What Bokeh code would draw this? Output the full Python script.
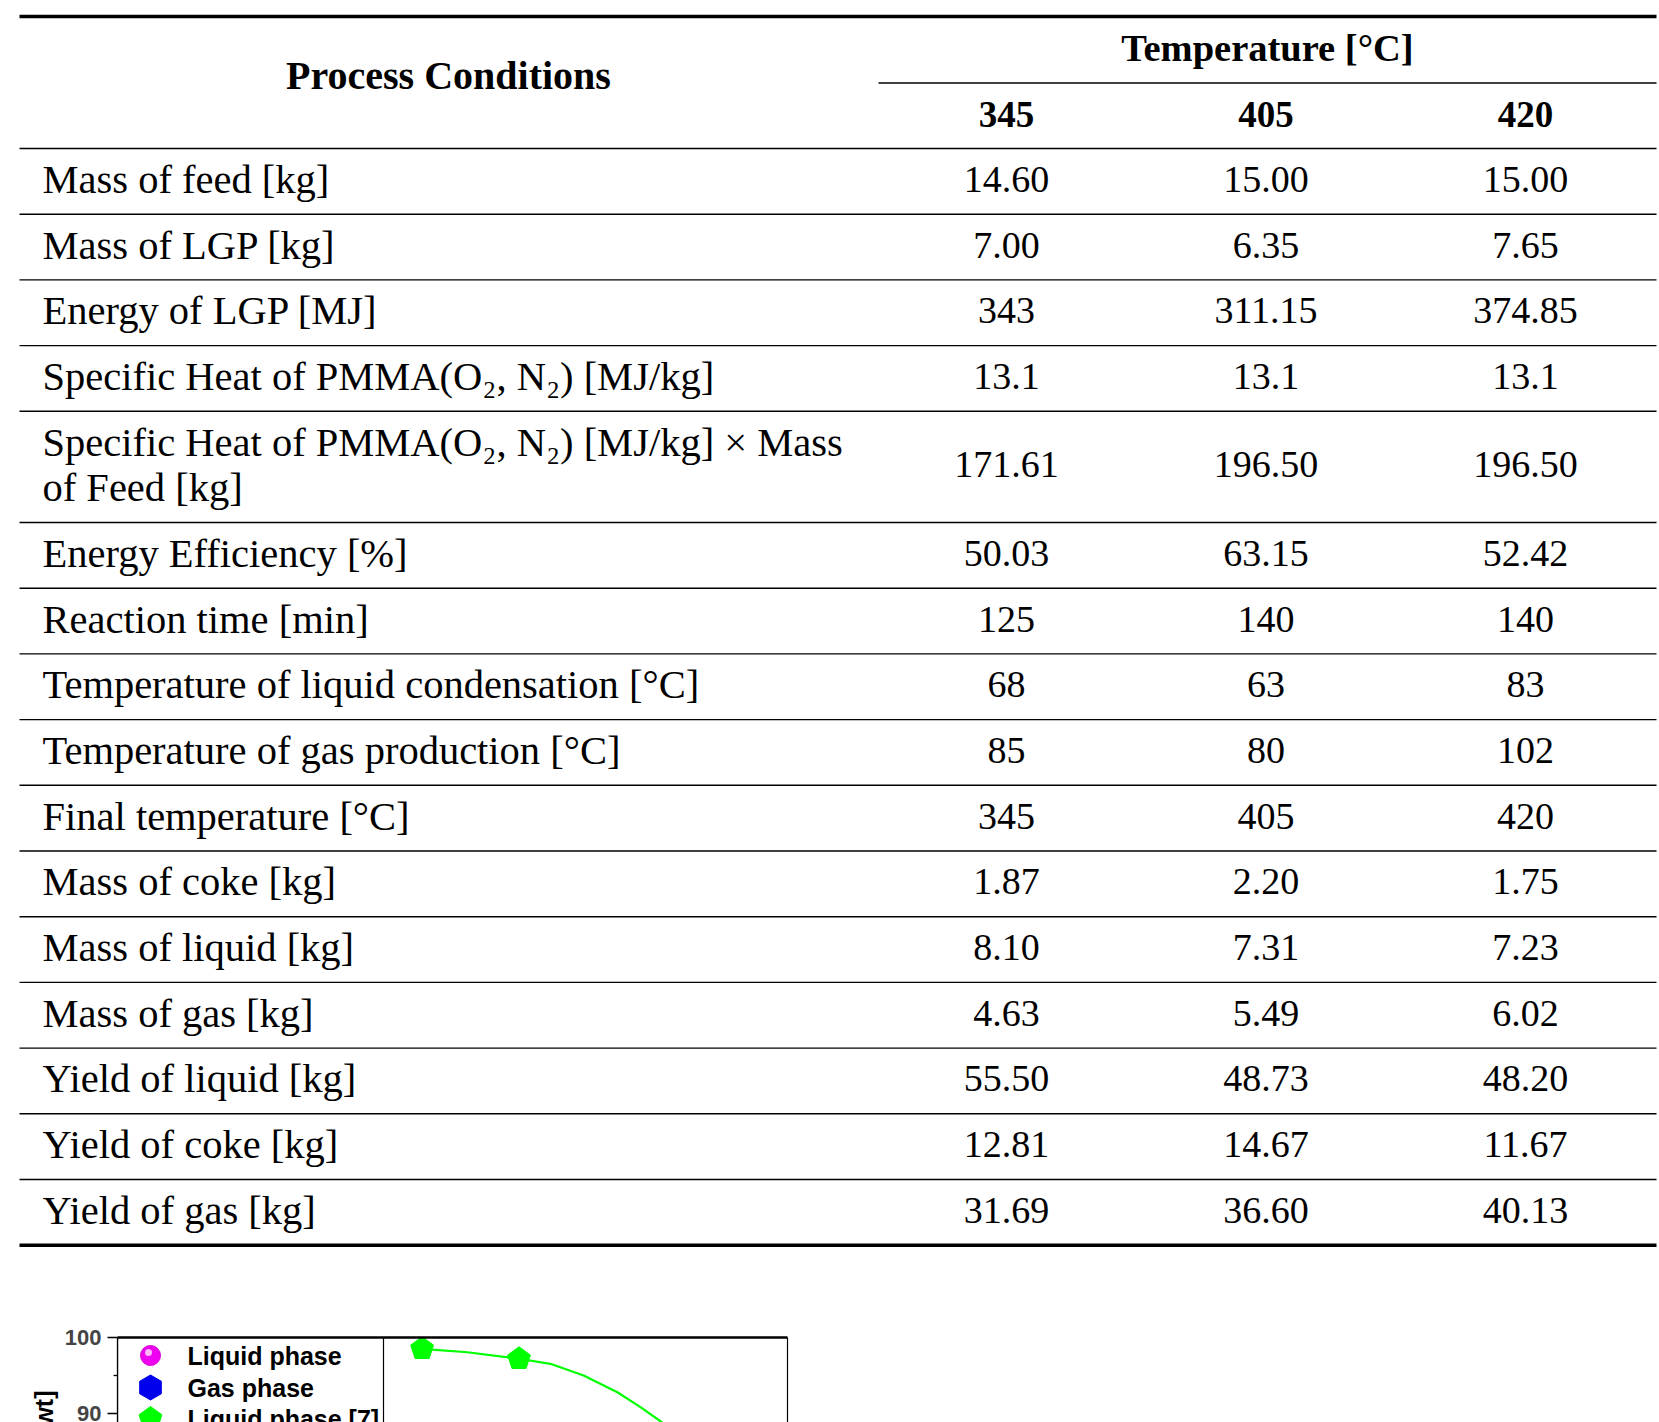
import math
from bokeh.plotting import figure
from bokeh.layouts import column, row
from bokeh.models import Range1d, LinearAxis, FixedTicker
from bokeh.core.properties import value
from bokeh.embed import file_html
from bokeh.resources import INLINE

# ---------------- table data ----------------
header_left = "Process Conditions"
header_group = "Temperature [°C]"
temperatures = ["345", "405", "420"]
conditions = [
    "Mass of feed [kg]",
    "Mass of LGP [kg]",
    "Energy of LGP [MJ]",
    "Specific Heat of PMMA(O₂, N₂) [MJ/kg]",
    "Specific Heat of PMMA(O₂, N₂) [MJ/kg] × Mass\nof Feed [kg]",
    "Energy Efficiency [%]",
    "Reaction time [min]",
    "Temperature of liquid condensation [°C]",
    "Temperature of gas production [°C]",
    "Final temperature [°C]",
    "Mass of coke [kg]",
    "Mass of liquid [kg]",
    "Mass of gas [kg]",
    "Yield of liquid [kg]",
    "Yield of coke [kg]",
    "Yield of gas [kg]",
]
t345 = ["14.60", "7.00", "343", "13.1", "171.61", "50.03", "125", "68", "85",
        "345", "1.87", "8.10", "4.63", "55.50", "12.81", "31.69"]
t405 = ["15.00", "6.35", "311.15", "13.1", "196.50", "63.15", "140", "63", "80",
        "405", "2.20", "7.31", "5.49", "48.73", "14.67", "36.60"]
t420 = ["15.00", "7.65", "374.85", "13.1", "196.50", "52.42", "140", "83", "102",
        "420", "1.75", "7.23", "6.02", "48.20", "11.67", "40.13"]

# ---------------- chart data (visible top part) ----------------
legend_labels = ["Liquid phase", "Gas phase", "Liquid phase [7]"]
liq7_x = [360.2, 380.3]
liq7_y = [98.52, 97.21]
liq7_fit_x = [360.2, 369.6, 380.3, 386.8, 393.7, 400.7, 405.5, 410.0, 412.5]
liq7_fit_y = [98.52, 98.07, 97.21, 96.55, 95.02, 92.83, 90.87, 88.86, 87.6]
y_label = "Yield [wt]"

# ---------------- table figure ----------------
SERIF = "Liberation Serif"
FS_LABEL, FS_NUM = "40.5px", "38px"
TW, TH = 1659, 1290
t = figure(width=TW, height=TH, x_range=Range1d(0, TW), y_range=Range1d(TH, 0),
           output_backend="svg", toolbar_location=None, x_axis_type=None,
           y_axis_type=None, min_border=0, outline_line_color=None, frame_align=False)
t.grid.visible = False

TOP_Y, CMID_Y, HEAD_RULE_Y = 16, 82.5, 148
HEAD1_Y, HEAD2_Y = 47, 114
ROW_H, LINE_H = 65.7, 45.5
TXT_DY = -2
LABEL_X = 42
COL_X = [1006, 1265.5, 1525]
RULE_X0, RULE_X1, CMID_X0 = 19, 1656, 878

bounds = [HEAD_RULE_Y]
for cond in conditions:
    n = cond.count("\n") + 1
    bounds.append(bounds[-1] + ROW_H + LINE_H * (n - 1))
centers = [(a + b) / 2 + TXT_DY for a, b in zip(bounds[:-1], bounds[1:])]

thin_y = bounds[:-1]
t.segment(x0=[RULE_X0] * len(thin_y), x1=[RULE_X1] * len(thin_y), y0=thin_y, y1=thin_y,
          line_color="black", line_width=1.4)
t.segment(x0=[CMID_X0], x1=[RULE_X1], y0=[CMID_Y], y1=[CMID_Y], line_color="black",
          line_width=1.4)
t.segment(x0=[RULE_X0, RULE_X0], x1=[RULE_X1, RULE_X1], y0=[TOP_Y, bounds[-1]],
          y1=[TOP_Y, bounds[-1]], line_color="black", line_width=3.6)

t.text(x=[448], y=[(TOP_Y + HEAD_RULE_Y) / 2 - 7], text=[header_left],
       text_font=value(SERIF), text_font_style="bold", text_font_size="40px",
       text_align="center", text_baseline="middle", text_color="black")
t.text(x=[(CMID_X0 + RULE_X1) / 2], y=[HEAD1_Y], text=[header_group],
       text_font=value(SERIF), text_font_style="bold", text_font_size="38.5px",
       text_align="center", text_baseline="middle", text_color="black")
t.text(x=COL_X, y=[HEAD2_Y] * 3, text=temperatures, text_font=value(SERIF),
       text_font_style="bold", text_font_size="37px", text_align="center",
       text_baseline="middle", text_color="black")

t.text(x=[LABEL_X] * len(conditions), y=centers, text=conditions, text_font=value(SERIF),
       text_font_size=FS_LABEL, text_align="left", text_baseline="middle",
       text_color="black", text_line_height=1.01)
for cx, col in zip(COL_X, [t345, t405, t420]):
    t.text(x=[cx] * len(col), y=centers, text=col, text_font=value(SERIF),
           text_font_size=FS_NUM, text_align="center", text_baseline="middle",
           text_color="black")

# ---------------- chart (only its top is in view) ----------------
SANS = "Liberation Sans"
GREEN = "#00ff00"
CH = 1422 - TH
LABW = 60
TOPB, LEFTB, FW = 47, 117, 670
FH = CH - TOPB
PX_PER_UNIT = 7.63

# narrow strip holding the rotated y-axis title
lab = figure(width=LABW, height=CH, x_range=Range1d(0, LABW), y_range=Range1d(0, CH),
             output_backend="svg", toolbar_location=None, x_axis_type=None,
             y_axis_type=None, min_border=0, outline_line_color=None, frame_align=False)
lab.grid.visible = False
lab.text(x=[43], y=[CH - 100], text=[y_label], angle=math.pi / 2, text_align="right",
         text_baseline="middle", text_font=value(SANS), text_font_style="bold",
         text_font_size="25px", text_color="black")

c = figure(width=LEFTB - LABW + FW + 10, height=CH, x_range=Range1d(297, 436),
           y_range=Range1d(100 - FH / PX_PER_UNIT, 100),
           output_backend="svg", toolbar_location=None, x_axis_location=None,
           min_border_left=LEFTB - LABW, min_border_right=10, min_border_top=TOPB,
           min_border_bottom=0, outline_line_color=None, frame_align=False)
c.grid.visible = False
# pixel ranges of the frame, used for the legend box layout
c.extra_x_ranges = {"px": Range1d(0, FW)}
c.extra_y_ranges = {"px": Range1d(FH, 0)}

ya = c.yaxis[0]
ya.ticker = FixedTicker(ticks=[90, 100], minor_ticks=[95])
ya.major_tick_out, ya.major_tick_in = 10, 0
ya.minor_tick_out, ya.minor_tick_in = 4, 0
ya.axis_line_width = 1.3
ya.major_tick_line_width = 1.3
ya.minor_tick_line_width = 1.3
ya.major_label_text_font = SANS
ya.major_label_text_font_style = "bold"
ya.major_label_text_font_size = "22px"
ya.major_label_standoff = 6

c.add_layout(LinearAxis(ticker=FixedTicker(ticks=[]), major_label_text_font_size="0px",
                        major_tick_line_color=None, minor_tick_line_color=None,
                        axis_line_width=2.6), "above")
c.add_layout(LinearAxis(ticker=FixedTicker(ticks=[]), major_label_text_font_size="0px",
                        major_tick_line_color=None, minor_tick_line_color=None,
                        axis_line_width=1.2, y_range_name="px"), "right")

# legend box (frame pixel offsets)
LG_RIGHT, LG_MX, LG_TX = 266, 33, 70
LG_Y = [18, 50, 81]
c.quad(left=[0], right=[LG_RIGHT], top=[0], bottom=[FH + 20], x_range_name="px",
       y_range_name="px", fill_color="white", line_color="black", line_width=1.2)
c.scatter(x=[LG_MX], y=[LG_Y[0]], x_range_name="px", y_range_name="px",
          marker="circle", size=20, fill_color="#f000f0", line_color="#d000d0")
c.scatter(x=[LG_MX - 2], y=[LG_Y[0] - 3], x_range_name="px", y_range_name="px",
          marker="circle", size=7, fill_color="#ffc8ff", line_color=None, fill_alpha=0.9)
c.scatter(x=[LG_MX], y=[LG_Y[1]], x_range_name="px", y_range_name="px",
          marker="hex", angle=math.pi / 2, size=25, fill_color="#0000ee",
          line_color="#0000ee")
c.ngon(x=[LG_MX], y=[LG_Y[2]], x_range_name="px", y_range_name="px", radius=12,
       radius_units="screen", n=5, fill_color=GREEN, line_color=GREEN)
c.text(x=[LG_TX] * 3, y=LG_Y, text=legend_labels, x_range_name="px", y_range_name="px",
       text_font=value(SANS), text_font_style="bold", text_font_size="25px",
       text_align="left", text_baseline="middle", text_color="black")

# data
c.line(liq7_fit_x, liq7_fit_y, line_color=GREEN, line_width=2.2)
c.ngon(x=liq7_x, y=liq7_y, radius=12, radius_units="screen", n=5,
       fill_color=GREEN, line_color=GREEN)

layout = column(t, row(lab, c, spacing=0), spacing=0)
open("out.html", "w").write(file_html(layout, INLINE))
